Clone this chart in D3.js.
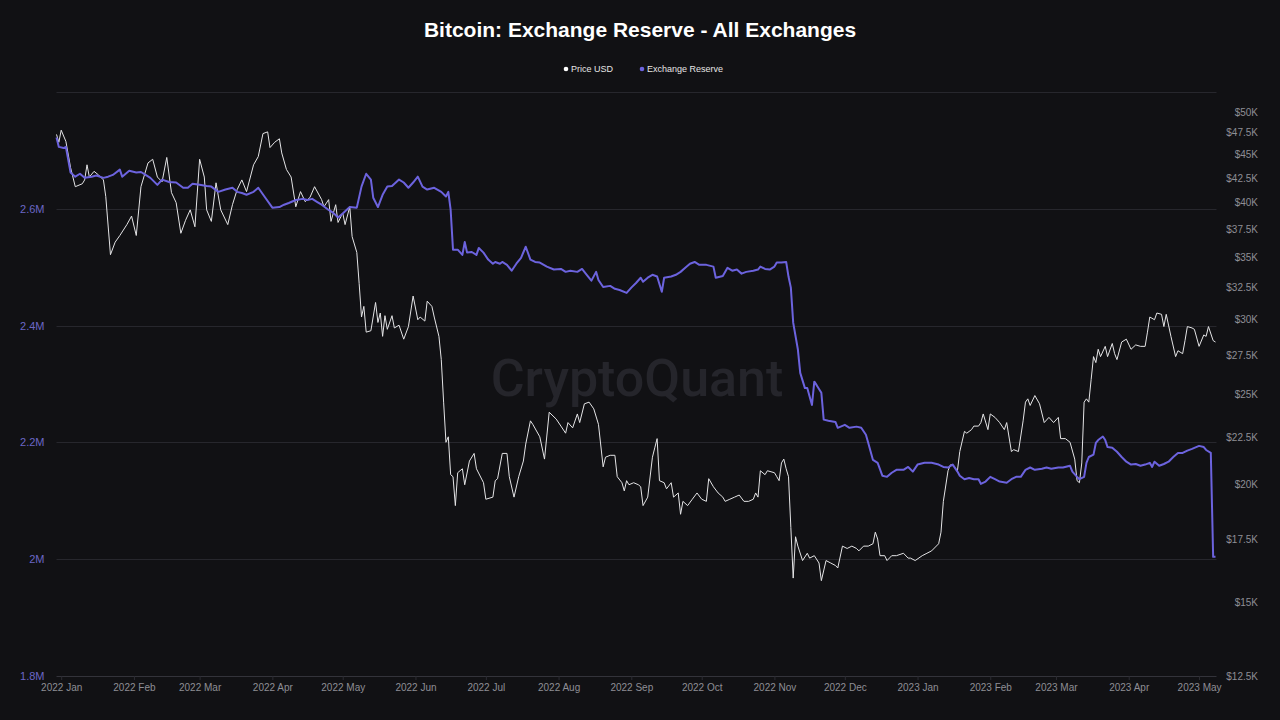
<!DOCTYPE html>
<html>
<head>
<meta charset="utf-8">
<script src="https://cdnjs.cloudflare.com/ajax/libs/d3/7.8.5/d3.min.js"></script>
<style>
  html, body { margin: 0; padding: 0; background: #111114; }
  svg { display: block; }
</style>
</head>
<body>
<svg id="chart"></svg>
<script>
var width = 1280, height = 720;

var title = "Bitcoin: Exchange Reserve - All Exchanges";
var seriesNames = ["Price USD", "Exchange Reserve"];

var monthTicks = ["2022-01-01","2022-02-01","2022-03-01","2022-04-01","2022-05-01","2022-06-01","2022-07-01",
  "2022-08-01","2022-09-01","2022-10-01","2022-11-01","2022-12-01","2023-01-01","2023-02-01","2023-03-01",
  "2023-04-01","2023-05-01"];
var reserveTicks = [1800000, 2000000, 2200000, 2400000, 2600000, 2800000];
var priceTicks = [12500, 15000, 17500, 20000, 22500, 25000, 27500, 30000, 32500, 35000, 37500, 40000,
  42500, 45000, 47500, 50000];

// BTC price, USD
var priceSeries = [
  ["2021-12-30",47300],["2021-12-31",46400],["2022-01-01",47800],["2022-01-03",46500],["2022-01-05",43600],
  ["2022-01-07",41600],["2022-01-10",41900],["2022-01-11",42300],["2022-01-12",43900],["2022-01-13",42600],
  ["2022-01-15",43200],["2022-01-17",42800],["2022-01-19",42300],["2022-01-20",40600],["2022-01-22",35200],
  ["2022-01-24",36300],["2022-01-26",36900],["2022-01-29",37900],["2022-01-31",38700],["2022-02-02",36900],
  ["2022-02-04",41600],["2022-02-07",44100],["2022-02-09",44500],["2022-02-11",42600],["2022-02-13",42100],
  ["2022-02-15",44700],["2022-02-17",41000],["2022-02-19",40000],["2022-02-21",37100],["2022-02-23",38300],
  ["2022-02-25",39300],["2022-02-27",37700],["2022-03-01",44500],["2022-03-03",42600],["2022-03-04",39300],
  ["2022-03-06",38200],["2022-03-08",42000],["2022-03-10",39300],["2022-03-13",37900],["2022-03-15",39800],
  ["2022-03-17",41300],["2022-03-19",42300],["2022-03-21",41100],["2022-03-24",43900],["2022-03-26",44800],
  ["2022-03-28",47400],["2022-03-30",47600],["2022-03-31",45800],["2022-04-02",46400],["2022-04-04",46800],
  ["2022-04-05",45200],["2022-04-07",43400],["2022-04-09",42600],["2022-04-11",39600],["2022-04-13",41100],
  ["2022-04-15",40100],["2022-04-17",40500],["2022-04-19",41600],["2022-04-22",40300],["2022-04-23",39600],
  ["2022-04-25",40300],["2022-04-26",38200],["2022-04-28",39800],["2022-04-29",38100],["2022-05-01",39000],
  ["2022-05-02",37900],["2022-05-04",39600],["2022-05-05",36800],["2022-05-07",35400],["2022-05-08",32800],
  ["2022-05-09",30200],["2022-05-10",31000],["2022-05-11",29100],["2022-05-13",29200],["2022-05-15",31300],
  ["2022-05-16",29800],["2022-05-17",30500],["2022-05-18",28800],["2022-05-19",30300],["2022-05-20",29300],
  ["2022-05-22",30300],["2022-05-23",29400],["2022-05-25",29600],["2022-05-27",28600],["2022-05-29",29500],
  ["2022-05-31",31800],["2022-06-02",30000],["2022-06-03",30200],["2022-06-05",29900],["2022-06-06",31400],
  ["2022-06-08",31000],["2022-06-09",30200],["2022-06-11",28800],["2022-06-12",27200],["2022-06-13",24500],
  ["2022-06-14",22200],["2022-06-15",22500],["2022-06-16",20500],["2022-06-17",20400],["2022-06-18",19000],
  ["2022-06-19",20600],["2022-06-21",20800],["2022-06-22",20000],["2022-06-24",21200],["2022-06-26",21600],
  ["2022-06-27",20800],["2022-06-30",20100],["2022-07-01",19300],["2022-07-04",19400],["2022-07-05",20200],
  ["2022-07-06",20300],["2022-07-08",21600],["2022-07-10",21600],["2022-07-11",20400],["2022-07-13",19400],
  ["2022-07-15",20400],["2022-07-17",21200],["2022-07-18",22100],["2022-07-20",23400],["2022-07-21",23200],
  ["2022-07-24",22500],["2022-07-26",21300],["2022-07-28",23900],["2022-07-31",23500],["2022-08-02",23100],
  ["2022-08-04",22700],["2022-08-05",23300],["2022-08-07",23000],["2022-08-09",23800],["2022-08-10",23300],
  ["2022-08-12",24400],["2022-08-14",24500],["2022-08-16",24100],["2022-08-18",23200],["2022-08-20",20900],
  ["2022-08-21",21400],["2022-08-23",21500],["2022-08-25",21500],["2022-08-26",20400],["2022-08-28",20100],
  ["2022-08-29",19700],["2022-08-30",20200],["2022-08-31",20000],["2022-09-02",20100],["2022-09-04",20000],
  ["2022-09-05",19900],["2022-09-06",19000],["2022-09-08",19400],["2022-09-10",21400],["2022-09-11",21900],
  ["2022-09-12",22400],["2022-09-13",20200],["2022-09-15",20100],["2022-09-16",19800],["2022-09-18",20100],
  ["2022-09-19",19400],["2022-09-21",19600],["2022-09-22",18600],["2022-09-23",19200],["2022-09-25",19000],
  ["2022-09-27",19300],["2022-09-29",19600],["2022-10-01",19300],["2022-10-03",19200],["2022-10-04",20300],
  ["2022-10-06",19900],["2022-10-08",19600],["2022-10-10",19400],["2022-10-11",19200],["2022-10-13",19300],
  ["2022-10-15",19400],["2022-10-17",19500],["2022-10-19",19200],["2022-10-21",19200],["2022-10-23",19300],
  ["2022-10-24",19600],["2022-10-25",19400],["2022-10-26",20700],["2022-10-28",20500],["2022-10-29",20700],
  ["2022-11-01",20600],["2022-11-02",20400],["2022-11-03",20200],["2022-11-04",21100],["2022-11-05",21300],
  ["2022-11-06",20800],["2022-11-07",20400],["2022-11-08",18000],["2022-11-09",15900],["2022-11-10",17600],
  ["2022-11-11",17200],["2022-11-13",16600],["2022-11-15",16900],["2022-11-16",16700],["2022-11-18",16800],
  ["2022-11-20",16500],["2022-11-21",15800],["2022-11-23",16600],["2022-11-25",16500],["2022-11-27",16400],
  ["2022-11-28",16300],["2022-11-30",17200],["2022-12-02",17100],["2022-12-04",17200],["2022-12-06",17100],
  ["2022-12-07",17000],["2022-12-09",17200],["2022-12-11",17200],["2022-12-13",17300],["2022-12-14",17800],
  ["2022-12-15",17500],["2022-12-16",16800],["2022-12-18",16800],["2022-12-19",16600],["2022-12-21",16800],
  ["2022-12-23",16800],["2022-12-26",16900],["2022-12-28",16700],["2022-12-29",16700],["2022-12-31",16600],
  ["2023-01-03",16800],["2023-01-05",16900],["2023-01-07",17000],["2023-01-10",17300],["2023-01-11",17800],
  ["2023-01-12",19200],["2023-01-14",20700],["2023-01-15",21000],["2023-01-16",21000],["2023-01-18",20700],
  ["2023-01-19",21700],["2023-01-21",22800],["2023-01-22",22700],["2023-01-24",22900],["2023-01-25",23100],
  ["2023-01-27",23100],["2023-01-28",23300],["2023-01-29",23800],["2023-01-31",22900],["2023-02-01",23800],
  ["2023-02-03",23600],["2023-02-05",23300],["2023-02-07",22900],["2023-02-08",23300],["2023-02-10",21700],
  ["2023-02-11",21800],["2023-02-13",21700],["2023-02-15",23400],["2023-02-16",24500],["2023-02-17",24700],
  ["2023-02-18",24300],["2023-02-20",24900],["2023-02-22",24400],["2023-02-24",23300],["2023-02-26",23600],
  ["2023-02-28",23300],["2023-03-02",23600],["2023-03-03",22400],["2023-03-05",22400],["2023-03-07",22200],
  ["2023-03-09",21300],["2023-03-10",20200],["2023-03-11",20100],["2023-03-12",21100],["2023-03-13",24500],
  ["2023-03-14",24700],["2023-03-15",24500],["2023-03-16",25900],["2023-03-17",27400],["2023-03-18",27000],
  ["2023-03-19",27900],["2023-03-20",27400],["2023-03-22",28100],["2023-03-23",27400],["2023-03-25",28300],
  ["2023-03-26",27600],["2023-03-27",27200],["2023-03-29",28400],["2023-03-31",28600],["2023-04-02",27900],
  ["2023-04-04",28200],["2023-04-06",28100],["2023-04-08",28100],["2023-04-09",29100],["2023-04-10",30200],
  ["2023-04-12",30000],["2023-04-13",30500],["2023-04-15",30400],["2023-04-16",29500],["2023-04-17",30400],
  ["2023-04-19",28800],["2023-04-21",27400],["2023-04-22",27800],["2023-04-24",27600],["2023-04-25",28500],
  ["2023-04-26",29500],["2023-04-28",29400],["2023-04-29",29300],["2023-05-01",28100],["2023-05-03",28900],
  ["2023-05-04",28800],["2023-05-05",29500],["2023-05-07",28500],["2023-05-08",28400]
];

// exchange reserve, BTC
var reserveSeries = [
  ["2021-12-30",2722000],["2021-12-31",2706000],["2022-01-02",2704000],["2022-01-03",2706000],["2022-01-04",2684000],
  ["2022-01-05",2662000],["2022-01-07",2655000],["2022-01-09",2660000],["2022-01-11",2653000],["2022-01-14",2655000],
  ["2022-01-16",2657000],["2022-01-19",2653000],["2022-01-21",2655000],["2022-01-23",2658000],["2022-01-26",2667000],
  ["2022-01-27",2655000],["2022-01-30",2665000],["2022-02-02",2662000],["2022-02-04",2663000],["2022-02-06",2658000],
  ["2022-02-08",2653000],["2022-02-11",2641000],["2022-02-13",2650000],["2022-02-16",2646000],["2022-02-19",2645000],
  ["2022-02-22",2636000],["2022-02-24",2636000],["2022-02-26",2643000],["2022-03-01",2641000],["2022-03-04",2639000],
  ["2022-03-06",2638000],["2022-03-09",2629000],["2022-03-12",2633000],["2022-03-15",2636000],["2022-03-17",2629000],
  ["2022-03-19",2627000],["2022-03-21",2624000],["2022-03-24",2629000],["2022-03-26",2636000],["2022-03-29",2619000],
  ["2022-04-01",2602000],["2022-04-04",2603000],["2022-04-06",2607000],["2022-04-08",2610000],["2022-04-11",2615000],
  ["2022-04-14",2617000],["2022-04-16",2615000],["2022-04-18",2617000],["2022-04-20",2612000],["2022-04-22",2607000],
  ["2022-04-25",2598000],["2022-04-27",2593000],["2022-04-29",2585000],["2022-05-01",2592000],["2022-05-04",2603000],
  ["2022-05-07",2602000],["2022-05-09",2638000],["2022-05-11",2660000],["2022-05-13",2650000],["2022-05-14",2619000],
  ["2022-05-16",2603000],["2022-05-18",2624000],["2022-05-20",2638000],["2022-05-22",2639000],["2022-05-25",2650000],
  ["2022-05-27",2645000],["2022-05-29",2636000],["2022-05-31",2645000],["2022-06-02",2655000],["2022-06-04",2638000],
  ["2022-06-06",2633000],["2022-06-09",2636000],["2022-06-12",2629000],["2022-06-14",2621000],["2022-06-15",2629000],
  ["2022-06-16",2598000],["2022-06-17",2530000],["2022-06-19",2530000],["2022-06-21",2521000],["2022-06-22",2543000],
  ["2022-06-23",2525000],["2022-06-25",2526000],["2022-06-27",2521000],["2022-06-28",2533000],["2022-06-30",2525000],
  ["2022-07-02",2513000],["2022-07-04",2506000],["2022-07-05",2509000],["2022-07-07",2506000],["2022-07-08",2509000],
  ["2022-07-10",2504000],["2022-07-12",2494000],["2022-07-14",2506000],["2022-07-16",2516000],["2022-07-18",2535000],
  ["2022-07-20",2513000],["2022-07-22",2509000],["2022-07-24",2508000],["2022-07-27",2501000],["2022-07-30",2496000],
  ["2022-08-02",2497000],["2022-08-04",2492000],["2022-08-06",2494000],["2022-08-09",2492000],["2022-08-11",2497000],
  ["2022-08-13",2487000],["2022-08-15",2477000],["2022-08-17",2492000],["2022-08-18",2478000],["2022-08-20",2466000],
  ["2022-08-23",2468000],["2022-08-25",2463000],["2022-08-27",2461000],["2022-08-30",2456000],["2022-09-01",2465000],
  ["2022-09-03",2473000],["2022-09-05",2482000],["2022-09-06",2475000],["2022-09-08",2482000],["2022-09-10",2487000],
  ["2022-09-12",2484000],["2022-09-14",2458000],["2022-09-15",2482000],["2022-09-18",2484000],["2022-09-20",2487000],
  ["2022-09-22",2492000],["2022-09-24",2499000],["2022-09-26",2506000],["2022-09-28",2509000],["2022-09-30",2504000],
  ["2022-10-03",2504000],["2022-10-06",2501000],["2022-10-07",2482000],["2022-10-10",2485000],["2022-10-12",2499000],
  ["2022-10-14",2494000],["2022-10-16",2496000],["2022-10-18",2489000],["2022-10-20",2492000],["2022-10-23",2494000],
  ["2022-10-25",2496000],["2022-10-26",2501000],["2022-10-28",2497000],["2022-10-30",2496000],["2022-11-01",2501000],
  ["2022-11-02",2508000],["2022-11-04",2508000],["2022-11-06",2509000],["2022-11-07",2484000],["2022-11-08",2465000],
  ["2022-11-09",2405000],["2022-11-11",2359000],["2022-11-12",2319000],["2022-11-14",2293000],["2022-11-15",2293000],
  ["2022-11-17",2264000],["2022-11-18",2304000],["2022-11-19",2298000],["2022-11-21",2285000],["2022-11-22",2239000],
  ["2022-11-24",2237000],["2022-11-27",2235000],["2022-11-28",2225000],["2022-12-01",2230000],["2022-12-03",2225000],
  ["2022-12-06",2227000],["2022-12-08",2225000],["2022-12-10",2213000],["2022-12-11",2199000],["2022-12-13",2170000],
  ["2022-12-15",2165000],["2022-12-17",2143000],["2022-12-19",2141000],["2022-12-21",2148000],["2022-12-23",2153000],
  ["2022-12-26",2153000],["2022-12-28",2158000],["2022-12-30",2150000],["2023-01-01",2162000],["2023-01-04",2165000],
  ["2023-01-07",2165000],["2023-01-10",2162000],["2023-01-12",2158000],["2023-01-14",2157000],["2023-01-16",2162000],
  ["2023-01-18",2150000],["2023-01-19",2143000],["2023-01-21",2137000],["2023-01-23",2139000],["2023-01-25",2137000],
  ["2023-01-27",2137000],["2023-01-28",2129000],["2023-01-30",2133000],["2023-02-01",2141000],["2023-02-03",2137000],
  ["2023-02-05",2133000],["2023-02-08",2131000],["2023-02-10",2137000],["2023-02-12",2141000],["2023-02-14",2141000],
  ["2023-02-16",2153000],["2023-02-18",2157000],["2023-02-20",2153000],["2023-02-23",2155000],["2023-02-25",2157000],
  ["2023-02-27",2155000],["2023-03-02",2157000],["2023-03-04",2157000],["2023-03-07",2160000],["2023-03-08",2150000],
  ["2023-03-10",2141000],["2023-03-11",2137000],["2023-03-13",2141000],["2023-03-14",2165000],["2023-03-15",2175000],
  ["2023-03-17",2179000],["2023-03-18",2199000],["2023-03-19",2204000],["2023-03-21",2210000],["2023-03-22",2204000],
  ["2023-03-23",2192000],["2023-03-25",2191000],["2023-03-27",2184000],["2023-03-29",2175000],["2023-03-31",2167000],
  ["2023-04-02",2162000],["2023-04-04",2163000],["2023-04-06",2160000],["2023-04-08",2162000],["2023-04-10",2165000],
  ["2023-04-11",2158000],["2023-04-12",2167000],["2023-04-14",2160000],["2023-04-16",2163000],["2023-04-18",2167000],
  ["2023-04-20",2175000],["2023-04-22",2182000],["2023-04-24",2182000],["2023-04-26",2186000],["2023-04-28",2189000],
  ["2023-05-01",2194000],["2023-05-03",2192000],["2023-05-04",2187000],["2023-05-06",2182000],["2023-05-07",2004000],
  ["2023-05-08",2004000]
];

var parseDate = d3.timeParse("%Y-%m-%d");
var fontFamily = "'Liberation Sans', Arial, Helvetica, sans-serif";

var plotLeft = 56.5, plotRight = 1215.5, plotTop = 92, plotBottom = 676;

var x = d3.scaleTime()
    .domain([parseDate("2021-12-30"), parseDate("2023-05-08")])
    .range([plotLeft, plotRight]);

var yReserve = d3.scaleLinear()
    .domain([1800000, 2800000])
    .range([plotBottom, plotTop]);

var yPrice = d3.scaleLog()
    .domain([12500, 52500])
    .range([plotBottom, plotTop]);

var svg = d3.select("#chart")
    .attr("width", width)
    .attr("height", height)
    .style("font-family", fontFamily);

svg.append("rect")
    .attr("width", width)
    .attr("height", height)
    .attr("fill", "#111114");

// watermark
svg.append("text")
    .attr("x", 637)
    .attr("y", 396)
    .attr("text-anchor", "middle")
    .attr("font-family", "Roboto, 'Open Sans', sans-serif")
    .attr("font-size", 52)
    .attr("font-weight", 500)
    .attr("fill", "#25252b")
    .text("CryptoQuant");

// grid lines
svg.append("g")
  .selectAll("line")
  .data(reserveTicks)
  .enter().append("line")
    .attr("x1", plotLeft)
    .attr("x2", plotRight + 1)
    .attr("y1", function(d) { return Math.round(yReserve(d)) + 0.5; })
    .attr("y2", function(d) { return Math.round(yReserve(d)) + 0.5; })
    .attr("stroke", function(d) { return d === 1800000 ? "#33333a" : "#27272d"; })
    .attr("stroke-width", 1);

// left axis
var leftAxis = svg.append("g")
    .attr("transform", "translate(" + plotLeft + ",0)")
    .call(d3.axisLeft(yReserve)
      .tickValues(reserveTicks.filter(function(d) { return d < 2800000; }))
      .tickSize(0)
      .tickPadding(12)
      .tickFormat(function(d) { return (Math.round(d / 100000) / 10) + "M"; }));
leftAxis.select(".domain").remove();
leftAxis.selectAll("text")
    .attr("fill", "#6b67c6")
    .attr("font-size", 11)
    .attr("font-family", fontFamily);

// right axis
var rightAxis = svg.append("g")
    .attr("transform", "translate(1258,0)")
    .call(d3.axisLeft(yPrice)
      .tickValues(priceTicks)
      .tickSize(0)
      .tickPadding(0)
      .tickFormat(function(d) { return "$" + (d / 1000) + "K"; }));
rightAxis.select(".domain").remove();
rightAxis.selectAll("text")
    .attr("fill", "#8e8e94")
    .attr("font-size", 10)
    .attr("font-family", fontFamily);

// bottom axis
var bottomAxis = svg.append("g")
    .attr("transform", "translate(0," + plotBottom + ")")
    .call(d3.axisBottom(x)
      .tickValues(monthTicks.map(parseDate))
      .tickSize(4)
      .tickPadding(4)
      .tickFormat(d3.timeFormat("%Y %b")));
bottomAxis.select(".domain").remove();
bottomAxis.selectAll("line").attr("stroke", "#2c2c33");
bottomAxis.selectAll("text")
    .attr("fill", "#8e8e94")
    .attr("font-size", 10)
    .attr("font-family", fontFamily);

// lines
var priceLine = d3.line()
    .x(function(d) { return x(parseDate(d[0])); })
    .y(function(d) { return yPrice(d[1]); });

var reserveLine = d3.line()
    .x(function(d) { return x(parseDate(d[0])); })
    .y(function(d) { return yReserve(d[1]); });

svg.append("path")
    .datum(priceSeries)
    .attr("fill", "none")
    .attr("stroke", "#e4e4e6")
    .attr("stroke-width", 1)
    .attr("stroke-linejoin", "round")
    .attr("d", priceLine);

svg.append("path")
    .datum(reserveSeries)
    .attr("fill", "none")
    .attr("stroke", "#6c63de")
    .attr("stroke-width", 2)
    .attr("stroke-linejoin", "round")
    .attr("d", reserveLine);

// title
svg.append("text")
    .attr("x", 640)
    .attr("y", 37)
    .attr("text-anchor", "middle")
    .attr("font-size", 21)
    .attr("font-weight", "bold")
    .attr("fill", "#ffffff")
    .text(title);

// legend
var legendColors = ["#ffffff", "#6c63de"];
var legendX = [566, 642];
var legend = svg.append("g")
  .selectAll("g")
  .data(seriesNames)
  .enter().append("g")
    .attr("transform", function(d, i) { return "translate(" + legendX[i] + ",69)"; });

legend.append("circle")
    .attr("r", 2.3)
    .attr("fill", function(d, i) { return legendColors[i]; });

legend.append("text")
    .attr("x", 5)
    .attr("y", 3.2)
    .attr("font-size", 9)
    .attr("fill", "#e6e6e6")
    .text(function(d) { return d; });
</script>
</body>
</html>
